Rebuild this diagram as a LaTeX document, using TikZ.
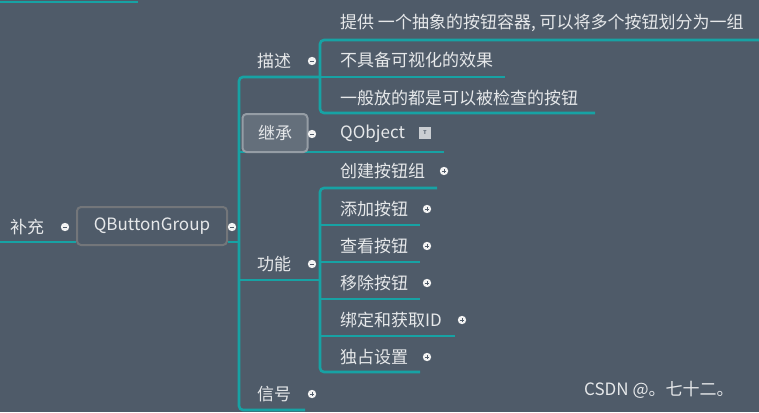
\documentclass[tikz,border=0pt]{standalone}
\usepackage{fontspec}
\setmainfont{Noto Sans CJK SC}
\begin{document}
\begin{tikzpicture}[x=1pt,y=-1pt,
  br/.style={draw=teal0,line width=2.6pt,rounded corners=4pt},
  txt/.style={text=txtc,font=\fontsize{17}{18}\selectfont,anchor=west,inner sep=0pt},
  minusdot/.pic={\fill[white!90!gray] (0,0) circle (4.2pt);\draw[bgc,line width=1pt] (-2.2,0)--(2.2,0);},
  plusdot/.pic={\fill[white!90!gray] (0,0) circle (4.2pt);\draw[bgc,line width=1pt] (-2.2,0)--(2.2,0) (0,-2.2)--(0,2.2);}]
\definecolor{bgc}{HTML}{4F5B69}
\definecolor{teal0}{HTML}{17A2A4}
\definecolor{txtc}{HTML}{E6E8EA}
\fill[bgc] (0,0) rectangle (759,412);
\useasboundingbox (0,0) rectangle (759,412);
% top-left fragment
\draw[br] (0,2) -- (138,2);
% left branch
\node[txt] (buchong) at (10,227) {补充};
\pic at (65,227) {minusdot};
\draw[br] (0,242) -- (76,242);
% root
\node[draw=gray!75!bgc,line width=2pt,rounded corners=4pt,minimum width=150pt,minimum height=38pt,text=txtc,font=\fontsize{17}{18}\selectfont] (root) at (152,226) {QButtonGroup};
\pic at (232,227) {minusdot};
% trunk
\draw[br] (228,242) -- (239,242);
\draw[br] (320,77) -- (239,77) -- (239,410) -- (305,410);
\draw[br] (239,152) -- (444,152);
\draw[br] (239,280) -- (320,280);
% level 1
\node[txt] (miaoshu) at (257,61) {描述};
\pic at (312,61) {minusdot};
\node[fill=white!12!bgc,draw=white!40!bgc,line width=2pt,rounded corners=4pt,minimum width=65pt,minimum height=38pt,text=txtc,font=\fontsize{17}{18}\selectfont] (jicheng) at (275,133) {继承};
\pic at (312,134) {minusdot};
\node[txt] (qobj) at (340,134) {QObject};
\fill[white!70!bgc] (419,127) rectangle (431,139);
\node[font=\tiny\bfseries,text=bgc] at (425,133) {T};
\node[txt] (gongneng) at (257,264) {功能};
\pic at (312,264) {minusdot};
\node[txt] (xinhao) at (257,394) {信号};
\pic at (312,394) {plusdot};
% children of 描述
\draw[br] (759,40) -- (320,40) -- (320,113) -- (595,113);
\draw[br] (320,77) -- (505,77);
\node[txt] (d1) at (340,23) {提供 一个抽象的按钮容器, 可以将多个按钮划分为一组};
\node[txt] (d2) at (340,60) {不具备可视化的效果};
\node[txt] (d3) at (340,98) {一般放的都是可以被检查的按钮};
% children of 功能
\draw[br] (437,188) -- (320,188) -- (320,372) -- (420,372);
\foreach \y/\e in {225/420,262/420,299/420,336/455} \draw[br] (320,\y) -- (\e,\y);
\node[txt] (f1) at (340,171) {创建按钮组}; \pic at (444,171) {plusdot};
\node[txt] (f2) at (340,209) {添加按钮}; \pic at (427,209) {plusdot};
\node[txt] (f3) at (340,246) {查看按钮}; \pic at (427,246) {plusdot};
\node[txt] (f4) at (340,283) {移除按钮}; \pic at (427,283) {plusdot};
\node[txt] (f5) at (340,320) {绑定和获取ID}; \pic at (462,320) {plusdot};
\node[txt] (f6) at (340,357) {独占设置}; \pic at (427,357) {plusdot};
\node[txt,font=\fontsize{17}{18}\selectfont] (wm) at (584,390) {CSDN @。七十二。};
\end{tikzpicture}
\end{document}
